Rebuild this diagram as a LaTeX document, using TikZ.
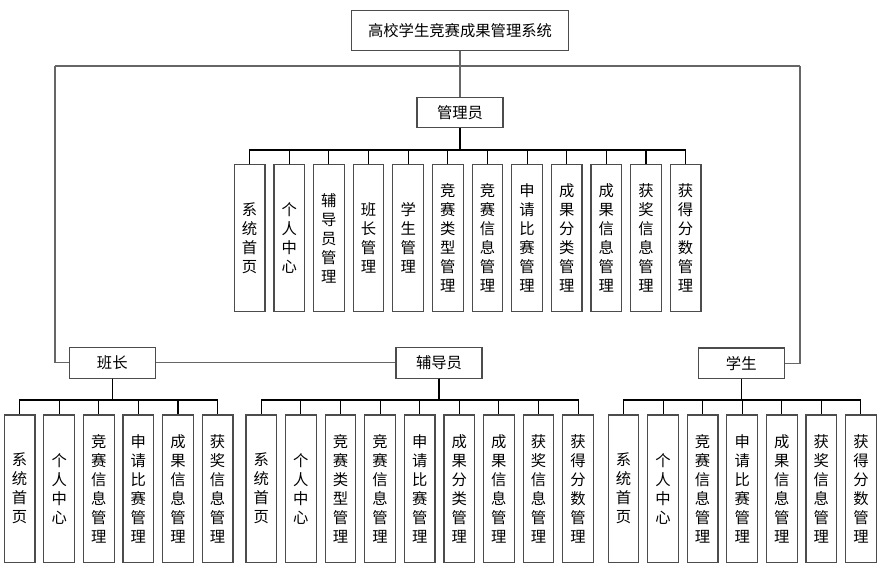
\documentclass[tikz,border=0pt]{standalone}
\usepackage{fontspec}
\setmainfont{Noto Sans CJK SC}
\usetikzlibrary{positioning}
\XeTeXlinebreaklocale "zh"
\XeTeXlinebreakskip=0pt plus 1pt

\tikzset{
  box/.style={draw=black!70, line width=0.9pt, fill=white, inner sep=0pt,
    font=\fontsize{11.5pt}{14.25pt}\selectfont},
  titlebox/.style={box, minimum width=162.5pt, minimum height=29.8pt},
  rolebox/.style={box, minimum width=64.5pt, minimum height=23pt},
  leafbox/.style={box, minimum width=23pt, minimum height=110.5pt,
    text width=12pt, align=center},
  link/.style={draw=black!60, line width=0.8pt},
  bus/.style={draw=black, line width=0.8pt}
}

\begin{document}
\begin{tikzpicture}[x=0.75pt, y=-0.75pt]
  \useasboundingbox (0,0) rectangle (888,570);

  % top level
  \node[titlebox] (sys) at (460,30.7) {高校学生竞赛成果管理系统};
  \node[rolebox] (admin) at (460,112.5) {管理员};
  \node[rolebox] (monitor) at (112.3,362.8) {班长};
  \node[rolebox] (tutor) at (439,362.8) {辅导员};
  \node[rolebox] (student) at (741.3,363.3) {学生};

  \coordinate (topL) at (55,66);
  \coordinate (topR) at (800,66);
  \draw[link] (topL) -- (topR);
  \draw[link] (sys.south) -- (admin.north);
  \draw[link] (topL) |- (monitor.west);
  \draw[link] (topR) |- (student.east);
  \draw[link] (monitor.east) -- (tutor.west);

  % admin leaves
  \coordinate (adminbus) at (460,150);
  \foreach \lbl [count=\i] in {系统首页,个人中心,辅导员管理,班长管理,学生管理,竞赛类型管理,
      竞赛信息管理,申请比赛管理,成果分类管理,成果信息管理,获奖信息管理,获得分数管理} {
    \node[leafbox] (a\i) at ({249.6+39.64*(\i-1)},238) {\lbl};
    \draw[bus] (admin.south) -- (adminbus) -| (a\i.north);
  }

  % monitor leaves
  \coordinate (monitorbus) at (112.3,400);
  \foreach \lbl [count=\i] in {系统首页,个人中心,竞赛信息管理,申请比赛管理,成果信息管理,获奖信息管理} {
    \node[leafbox] (m\i) at ({19.6+39.6*(\i-1)},488.7) {\lbl};
    \draw[bus] (monitor.south) -- (monitorbus) -| (m\i.north);
  }

  % tutor leaves
  \coordinate (tutorbus) at (439,400);
  \foreach \lbl [count=\i] in {系统首页,个人中心,竞赛类型管理,竞赛信息管理,申请比赛管理,
      成果分类管理,成果信息管理,获奖信息管理,获得分数管理} {
    \node[leafbox] (t\i) at ({261.3+39.6*(\i-1)},488.7) {\lbl};
    \draw[bus] (tutor.south) -- (tutorbus) -| (t\i.north);
  }

  % student leaves
  \coordinate (studentbus) at (741.3,400);
  \foreach \lbl [count=\i] in {系统首页,个人中心,竞赛信息管理,申请比赛管理,成果信息管理,
      获奖信息管理,获得分数管理} {
    \node[leafbox] (s\i) at ({623.5+39.57*(\i-1)},488.7) {\lbl};
    \draw[bus] (student.south) -- (studentbus) -| (s\i.north);
  }
\end{tikzpicture}
\end{document}
